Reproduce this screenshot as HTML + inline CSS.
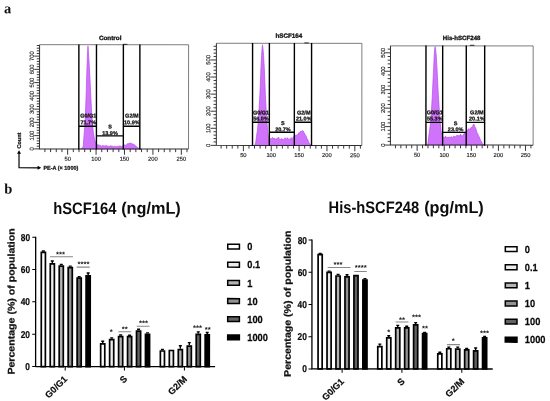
<!DOCTYPE html>
<html lang="en">
<head>
<meta charset="utf-8">
<title>Cell cycle analysis</title>
<style>
html,body{margin:0;padding:0;background:#fff;}
body{width:550px;height:401px;overflow:hidden;}
svg{display:block;}
</style>
</head>
<body>
<svg width="550" height="401" viewBox="0 0 550 401" font-family='&quot;Liberation Sans&quot;, Arial, Helvetica, sans-serif'>
<rect width="550" height="401" fill="#fff"/>
<g transform="rotate(0.03 275 200)">
<text x="3.8" y="13.3" font-family='&quot;Liberation Serif&quot;, &quot;Times New Roman&quot;, serif' font-size="14.5" font-weight="700" fill="#111">a</text>
<text x="4.2" y="193.6" font-family='&quot;Liberation Serif&quot;, &quot;Times New Roman&quot;, serif' font-size="14.5" font-weight="700" fill="#111">b</text>
<g>
<path d="M80.5 149 L80.5 149 L81.8 148.5 L83.2 146.5 L83.9 137 L85 123.5 L86 97.3 L86.8 71 L87.4 54 L87.9 46 L88.4 53 L88.9 61 L89.5 71 L90.2 85 L90.8 97.3 L91.6 113 L92.4 123.5 L93.2 132 L94 137 L95 141 L96 143.5 L97.5 145.09 L98.25 144.95 L99 145.34 L99.75 145.31 L100.5 145.51 L101.25 146.25 L102 146.24 L102.75 145.25 L103.5 146.01 L104.25 146.27 L105 145.69 L105.75 146.16 L106.5 145.69 L107.25 146.09 L108 146.11 L108.75 146.77 L109.5 146.3 L110.25 145.95 L111 146.18 L111.75 146.12 L112.5 146.34 L113.25 146.95 L114 146.21 L114.75 146.25 L115.5 146.59 L116.25 146.97 L117 146.39 L117.75 146.61 L118.5 146.27 L119.25 146.07 L120 146.3 L120.75 146.2 L121.5 146.6 L122.25 146.06 L123 146.26 L123.75 145.32 L124.5 144.98 L125.25 145.44 L126 145 L126.75 144.71 L127.5 143.69 L128.25 143.87 L129 143.26 L129.75 143.42 L130.5 142.99 L131.25 143.53 L132 143.96 L132.75 144.01 L133.5 144.31 L134.25 144.66 L135 145.6 L135.75 145.99 L136.5 146.74 L137.25 147.23 L138 147.94 L138.75 148.43 L139.5 148.66 L140.25 148.82 L141 149 L141 149 Z" fill="#d073fb" stroke="#b74bef" stroke-width="0.7" stroke-linejoin="round"/>
<path d="M39.5 44.8 H188.5 V149" fill="none" stroke="#6e6e6e" stroke-width="0.9"/>
<path d="M39.5 44.8 V149 H188.5" fill="none" stroke="#2e2e2e" stroke-width="1"/>
<path d="M44.88 149 v3.2 M50.57 149 v3.2 M56.25 149 v3.2 M61.94 149 v3.2 M67.62 149 v5.8 M73.3 149 v3.2 M78.99 149 v3.2 M84.67 149 v3.2 M90.36 149 v3.2 M96.04 149 v5.8 M101.72 149 v3.2 M107.41 149 v3.2 M113.09 149 v3.2 M118.78 149 v3.2 M124.46 149 v5.8 M130.14 149 v3.2 M135.83 149 v3.2 M141.51 149 v3.2 M147.2 149 v3.2 M152.88 149 v5.8 M158.56 149 v3.2 M164.25 149 v3.2 M169.93 149 v3.2 M175.62 149 v3.2 M181.3 149 v5.8 M186.98 149 v3.2" stroke="#2e2e2e" stroke-width="0.95" fill="none"/>
<path d="M39.5 149 h-5.3 M39.5 146.35 h-2.8 M39.5 143.7 h-2.8 M39.5 141.05 h-2.8 M39.5 138.4 h-2.8 M39.5 135.75 h-5.3 M39.5 133.1 h-2.8 M39.5 130.45 h-2.8 M39.5 127.8 h-2.8 M39.5 125.15 h-2.8 M39.5 122.5 h-5.3 M39.5 119.85 h-2.8 M39.5 117.2 h-2.8 M39.5 114.55 h-2.8 M39.5 111.9 h-2.8 M39.5 109.25 h-5.3 M39.5 106.6 h-2.8 M39.5 103.95 h-2.8 M39.5 101.3 h-2.8 M39.5 98.65 h-2.8 M39.5 96 h-5.3 M39.5 93.35 h-2.8 M39.5 90.7 h-2.8 M39.5 88.05 h-2.8 M39.5 85.4 h-2.8 M39.5 82.75 h-5.3 M39.5 80.1 h-2.8 M39.5 77.45 h-2.8 M39.5 74.8 h-2.8 M39.5 72.15 h-2.8 M39.5 69.5 h-5.3 M39.5 66.85 h-2.8 M39.5 64.2 h-2.8 M39.5 61.55 h-2.8 M39.5 58.9 h-2.8 M39.5 56.25 h-5.3 M39.5 53.6 h-2.8 M39.5 50.95 h-2.8 M39.5 48.3 h-2.8 M39.5 45.65 h-2.8" stroke="#2e2e2e" stroke-width="0.95" fill="none"/>
<text x="67.62" y="160.8" font-size="5.8" fill="#222" stroke="#222" stroke-width="0.15" text-anchor="middle">50</text>
<text x="96.04" y="160.8" font-size="5.8" fill="#222" stroke="#222" stroke-width="0.15" text-anchor="middle">100</text>
<text x="124.46" y="160.8" font-size="5.8" fill="#222" stroke="#222" stroke-width="0.15" text-anchor="middle">150</text>
<text x="152.88" y="160.8" font-size="5.8" fill="#222" stroke="#222" stroke-width="0.15" text-anchor="middle">200</text>
<text x="181.3" y="160.8" font-size="5.8" fill="#222" stroke="#222" stroke-width="0.15" text-anchor="middle">250</text>
<text transform="translate(33.6 149) rotate(-90)" font-size="5.8" fill="#222" stroke="#222" stroke-width="0.15" text-anchor="middle">0</text>
<text transform="translate(33.6 135.75) rotate(-90)" font-size="5.8" fill="#222" stroke="#222" stroke-width="0.15" text-anchor="middle">100</text>
<text transform="translate(33.6 122.5) rotate(-90)" font-size="5.8" fill="#222" stroke="#222" stroke-width="0.15" text-anchor="middle">200</text>
<text transform="translate(33.6 109.25) rotate(-90)" font-size="5.8" fill="#222" stroke="#222" stroke-width="0.15" text-anchor="middle">300</text>
<text transform="translate(33.6 96) rotate(-90)" font-size="5.8" fill="#222" stroke="#222" stroke-width="0.15" text-anchor="middle">400</text>
<text transform="translate(33.6 82.75) rotate(-90)" font-size="5.8" fill="#222" stroke="#222" stroke-width="0.15" text-anchor="middle">500</text>
<text transform="translate(33.6 69.5) rotate(-90)" font-size="5.8" fill="#222" stroke="#222" stroke-width="0.15" text-anchor="middle">600</text>
<text transform="translate(33.6 56.25) rotate(-90)" font-size="5.8" fill="#222" stroke="#222" stroke-width="0.15" text-anchor="middle">700</text>
<path d="M122.9 44.4 H127.3" stroke="#1a1a1a" stroke-width="0.9" fill="none"/>
<path d="M78.8 44.5 V149.6 M96.4 44.5 V149.6 M123.3 44.5 V149.6 M139.8 44.5 V149.6 M78.8 126.3 H96.4 M96.4 136 H123.3 M123.3 126.3 H139.8" stroke="#000" stroke-width="1.4" fill="none"/>
<text x="88.2" y="117.6" font-size="5.5" font-weight="700" fill="#111" stroke="#111" stroke-width="0.25" text-anchor="middle">G0/G1</text>
<text x="88.2" y="124.4" font-size="5.5" font-weight="700" fill="#111" stroke="#111" stroke-width="0.25" text-anchor="middle">71.7%</text>
<text x="110" y="128.6" font-size="5.5" font-weight="700" fill="#111" stroke="#111" stroke-width="0.25" text-anchor="middle">S</text>
<text x="110" y="135" font-size="5.5" font-weight="700" fill="#111" stroke="#111" stroke-width="0.25" text-anchor="middle">13.9%</text>
<text x="131.8" y="117.6" font-size="5.5" font-weight="700" fill="#111" stroke="#111" stroke-width="0.25" text-anchor="middle">G2/M</text>
<text x="131.8" y="124.4" font-size="5.5" font-weight="700" fill="#111" stroke="#111" stroke-width="0.25" text-anchor="middle">10.9%</text>
<text x="98.8" y="40" font-size="6.1" font-weight="700" fill="#111" stroke="#111" stroke-width="0.3" textLength="22.6" lengthAdjust="spacingAndGlyphs">Control</text>
</g>
<g>
<path d="M254.3 145.4 L254.3 145.4 L254.9 144.8 L255.7 142.4 L256.5 136.2 L257.4 130.4 L258.2 122.6 L259 109.4 L259.8 95.2 L260.4 81.4 L260.9 67.7 L261.5 55.4 L262 48.4 L262.4 44.8 L262.9 48.4 L263.5 55.4 L264.2 67.7 L264.8 82.4 L265.3 95.2 L266.1 109.4 L267 122.6 L267.6 131.4 L268.2 136.2 L268.9 138 L269.6 138.6 L271 138.97 L271.75 138.14 L272.5 137.44 L273.25 137.96 L274 139.14 L274.75 138.2 L275.5 139.29 L276.25 138.97 L277 138.56 L277.75 138.32 L278.5 137.04 L279.25 139.23 L280 139.26 L280.75 139.38 L281.5 138.52 L282.25 138.96 L283 140.53 L283.75 139.34 L284.5 138.42 L285.25 137.71 L286 138.5 L286.75 139.25 L287.5 137.64 L288.25 139.39 L289 138.98 L289.75 139.21 L290.5 138.75 L291.25 137.49 L292 139.15 L292.75 138.64 L293.5 136.68 L294.25 136.29 L295 136.8 L295.75 134.92 L296.5 135.13 L297.25 134.46 L298 134.96 L298.75 132.76 L299.5 132.44 L300.25 131.51 L301 131.25 L301.75 131.38 L302.5 130.44 L303.25 131.06 L304 132.77 L304.75 134.05 L305.5 135.14 L306.25 136.31 L307 139.08 L307.75 139.48 L308.5 141.87 L309.25 143.28 L310 144.01 L310.75 145.14 L311.5 145.4 L311.5 145.4 Z" fill="#d073fb" stroke="#b74bef" stroke-width="0.7" stroke-linejoin="round"/>
<path d="M216.3 43.3 H361.8 V145.4" fill="none" stroke="#6e6e6e" stroke-width="0.9"/>
<path d="M216.3 43.3 V145.4 H361.8" fill="none" stroke="#2e2e2e" stroke-width="1"/>
<path d="M221.07 145.4 v3.2 M226.64 145.4 v3.2 M232.22 145.4 v3.2 M237.79 145.4 v3.2 M243.36 145.4 v5.8 M248.93 145.4 v3.2 M254.5 145.4 v3.2 M260.08 145.4 v3.2 M265.65 145.4 v3.2 M271.22 145.4 v5.8 M276.79 145.4 v3.2 M282.36 145.4 v3.2 M287.94 145.4 v3.2 M293.51 145.4 v3.2 M299.08 145.4 v5.8 M304.65 145.4 v3.2 M310.22 145.4 v3.2 M315.8 145.4 v3.2 M321.37 145.4 v3.2 M326.94 145.4 v5.8 M332.51 145.4 v3.2 M338.08 145.4 v3.2 M343.66 145.4 v3.2 M349.23 145.4 v3.2 M354.8 145.4 v5.8 M360.37 145.4 v3.2" stroke="#2e2e2e" stroke-width="0.95" fill="none"/>
<path d="M216.3 145.4 h-5.3 M216.3 141.98 h-2.8 M216.3 138.57 h-2.8 M216.3 135.15 h-2.8 M216.3 131.74 h-2.8 M216.3 128.32 h-5.3 M216.3 124.9 h-2.8 M216.3 121.49 h-2.8 M216.3 118.07 h-2.8 M216.3 114.66 h-2.8 M216.3 111.24 h-5.3 M216.3 107.82 h-2.8 M216.3 104.41 h-2.8 M216.3 100.99 h-2.8 M216.3 97.58 h-2.8 M216.3 94.16 h-5.3 M216.3 90.74 h-2.8 M216.3 87.33 h-2.8 M216.3 83.91 h-2.8 M216.3 80.5 h-2.8 M216.3 77.08 h-5.3 M216.3 73.66 h-2.8 M216.3 70.25 h-2.8 M216.3 66.83 h-2.8 M216.3 63.42 h-2.8 M216.3 60 h-5.3 M216.3 56.58 h-2.8 M216.3 53.17 h-2.8 M216.3 49.75 h-2.8 M216.3 46.34 h-2.8" stroke="#2e2e2e" stroke-width="0.95" fill="none"/>
<text x="243.36" y="157.1" font-size="5.8" fill="#222" stroke="#222" stroke-width="0.15" text-anchor="middle">50</text>
<text x="271.22" y="157.1" font-size="5.8" fill="#222" stroke="#222" stroke-width="0.15" text-anchor="middle">100</text>
<text x="299.08" y="157.1" font-size="5.8" fill="#222" stroke="#222" stroke-width="0.15" text-anchor="middle">150</text>
<text x="326.94" y="157.1" font-size="5.8" fill="#222" stroke="#222" stroke-width="0.15" text-anchor="middle">200</text>
<text x="354.8" y="157.1" font-size="5.8" fill="#222" stroke="#222" stroke-width="0.15" text-anchor="middle">250</text>
<text transform="translate(210.3 145.4) rotate(-90)" font-size="5.8" fill="#222" stroke="#222" stroke-width="0.15" text-anchor="middle">0</text>
<text transform="translate(210.3 128.32) rotate(-90)" font-size="5.8" fill="#222" stroke="#222" stroke-width="0.15" text-anchor="middle">100</text>
<text transform="translate(210.3 111.24) rotate(-90)" font-size="5.8" fill="#222" stroke="#222" stroke-width="0.15" text-anchor="middle">200</text>
<text transform="translate(210.3 94.16) rotate(-90)" font-size="5.8" fill="#222" stroke="#222" stroke-width="0.15" text-anchor="middle">300</text>
<text transform="translate(210.3 77.08) rotate(-90)" font-size="5.8" fill="#222" stroke="#222" stroke-width="0.15" text-anchor="middle">400</text>
<text transform="translate(210.3 60) rotate(-90)" font-size="5.8" fill="#222" stroke="#222" stroke-width="0.15" text-anchor="middle">500</text>
<path d="M304.3 42.9 H308.6" stroke="#1a1a1a" stroke-width="0.9" fill="none"/>
<path d="M252.5 43 V146 M269.3 43 V146 M294.3 43 V146 M311.5 43 V146 M252.5 122.3 H269.3 M269.3 132.3 H294.3 M294.3 122.3 H311.5" stroke="#000" stroke-width="1.4" fill="none"/>
<text x="261" y="114.4" font-size="5.5" font-weight="700" fill="#111" stroke="#111" stroke-width="0.25" text-anchor="middle">G0/G1</text>
<text x="261" y="120.6" font-size="5.5" font-weight="700" fill="#111" stroke="#111" stroke-width="0.25" text-anchor="middle">56.0%</text>
<text x="282.9" y="125.1" font-size="5.5" font-weight="700" fill="#111" stroke="#111" stroke-width="0.25" text-anchor="middle">S</text>
<text x="282.9" y="131.2" font-size="5.5" font-weight="700" fill="#111" stroke="#111" stroke-width="0.25" text-anchor="middle">20.7%</text>
<text x="303.7" y="114.4" font-size="5.5" font-weight="700" fill="#111" stroke="#111" stroke-width="0.25" text-anchor="middle">G2/M</text>
<text x="303.7" y="120.6" font-size="5.5" font-weight="700" fill="#111" stroke="#111" stroke-width="0.25" text-anchor="middle">21.0%</text>
<text x="275.3" y="37.85" font-size="6.1" font-weight="700" fill="#111" stroke="#111" stroke-width="0.3" textLength="26.9" lengthAdjust="spacingAndGlyphs">hSCF164</text>
</g>
<g>
<path d="M427 145 L427 145 L427.8 144.2 L428.7 136.5 L429.6 130 L430.6 122.4 L431.5 109 L432.3 95 L432.9 82 L433.6 67.6 L434.1 56 L434.6 49 L435 46.6 L435.5 49 L436.2 56 L436.9 67.6 L437.6 82 L438.3 95 L439.2 109 L440.2 122.4 L440.9 130 L441.6 134.5 L442.5 136.6 L444 137.53 L444.75 137.36 L445.5 135.91 L446.25 137.61 L447 137.33 L447.75 137.16 L448.5 137.24 L449.25 136.79 L450 138.08 L450.75 136.73 L451.5 136.82 L452.25 137.28 L453 137.14 L453.75 135.78 L454.5 136.51 L455.25 136.73 L456 136.36 L456.75 135.15 L457.5 135.25 L458.25 135.9 L459 135.1 L459.75 136.26 L460.5 134.12 L461.25 135.5 L462 136.08 L462.75 135.43 L463.5 134.36 L464.25 133.1 L465 134.01 L465.75 132.74 L466.5 131.74 L467.25 130.74 L468 129.06 L468.75 128.72 L469.5 129.1 L470.25 128.91 L471 127.26 L471.75 127.17 L472.5 126.71 L473.25 124.36 L474 124.09 L474.75 126.63 L475.5 127.71 L476.25 129.85 L477 132.59 L477.75 133.83 L478.5 135.79 L479.25 136.87 L480 138.83 L480.75 141.29 L481.5 141.31 L482.25 143.67 L483 144.05 L483.75 144.5 L484.4 145 L484.4 145 Z" fill="#d073fb" stroke="#b74bef" stroke-width="0.7" stroke-linejoin="round"/>
<path d="M390.4 45.8 H533.1 V145" fill="none" stroke="#6e6e6e" stroke-width="0.9"/>
<path d="M390.4 45.8 V145 H533.1" fill="none" stroke="#2e2e2e" stroke-width="1"/>
<path d="M395.42 145 v3.2 M400.84 145 v3.2 M406.26 145 v3.2 M411.68 145 v3.2 M417.1 145 v5.8 M422.52 145 v3.2 M427.94 145 v3.2 M433.36 145 v3.2 M438.78 145 v3.2 M444.2 145 v5.8 M449.62 145 v3.2 M455.04 145 v3.2 M460.46 145 v3.2 M465.88 145 v3.2 M471.3 145 v5.8 M476.72 145 v3.2 M482.14 145 v3.2 M487.56 145 v3.2 M492.98 145 v3.2 M498.4 145 v5.8 M503.82 145 v3.2 M509.24 145 v3.2 M514.66 145 v3.2 M520.08 145 v3.2 M525.5 145 v5.8 M530.92 145 v3.2" stroke="#2e2e2e" stroke-width="0.95" fill="none"/>
<path d="M390.4 145 h-5.3 M390.4 141.31 h-2.8 M390.4 137.62 h-2.8 M390.4 133.93 h-2.8 M390.4 130.24 h-2.8 M390.4 126.55 h-5.3 M390.4 122.86 h-2.8 M390.4 119.17 h-2.8 M390.4 115.48 h-2.8 M390.4 111.79 h-2.8 M390.4 108.1 h-5.3 M390.4 104.41 h-2.8 M390.4 100.72 h-2.8 M390.4 97.03 h-2.8 M390.4 93.34 h-2.8 M390.4 89.65 h-5.3 M390.4 85.96 h-2.8 M390.4 82.27 h-2.8 M390.4 78.58 h-2.8 M390.4 74.89 h-2.8 M390.4 71.2 h-5.3 M390.4 67.51 h-2.8 M390.4 63.82 h-2.8 M390.4 60.13 h-2.8 M390.4 56.44 h-2.8 M390.4 52.75 h-5.3 M390.4 49.06 h-2.8" stroke="#2e2e2e" stroke-width="0.95" fill="none"/>
<text x="417.1" y="156.8" font-size="5.8" fill="#222" stroke="#222" stroke-width="0.15" text-anchor="middle">50</text>
<text x="444.2" y="156.8" font-size="5.8" fill="#222" stroke="#222" stroke-width="0.15" text-anchor="middle">100</text>
<text x="471.3" y="156.8" font-size="5.8" fill="#222" stroke="#222" stroke-width="0.15" text-anchor="middle">150</text>
<text x="498.4" y="156.8" font-size="5.8" fill="#222" stroke="#222" stroke-width="0.15" text-anchor="middle">200</text>
<text x="525.5" y="156.8" font-size="5.8" fill="#222" stroke="#222" stroke-width="0.15" text-anchor="middle">250</text>
<text transform="translate(385 145) rotate(-90)" font-size="5.8" fill="#222" stroke="#222" stroke-width="0.15" text-anchor="middle">0</text>
<text transform="translate(385 126.55) rotate(-90)" font-size="5.8" fill="#222" stroke="#222" stroke-width="0.15" text-anchor="middle">100</text>
<text transform="translate(385 108.1) rotate(-90)" font-size="5.8" fill="#222" stroke="#222" stroke-width="0.15" text-anchor="middle">200</text>
<text transform="translate(385 89.65) rotate(-90)" font-size="5.8" fill="#222" stroke="#222" stroke-width="0.15" text-anchor="middle">300</text>
<text transform="translate(385 71.2) rotate(-90)" font-size="5.8" fill="#222" stroke="#222" stroke-width="0.15" text-anchor="middle">400</text>
<text transform="translate(385 52.75) rotate(-90)" font-size="5.8" fill="#222" stroke="#222" stroke-width="0.15" text-anchor="middle">500</text>
<path d="M469.9 45.2 H474.3" stroke="#1a1a1a" stroke-width="0.9" fill="none"/>
<path d="M425.9 45.5 V145.6 M442.6 45.5 V145.6 M466.2 45.5 V145.6 M484.6 45.5 V145.6 M425.9 122.3 H442.6 M442.6 132.3 H466.2 M466.2 122.3 H484.6" stroke="#000" stroke-width="1.4" fill="none"/>
<text x="434.7" y="114.2" font-size="5.5" font-weight="700" fill="#111" stroke="#111" stroke-width="0.25" text-anchor="middle">G0/G1</text>
<text x="434.7" y="120.4" font-size="5.5" font-weight="700" fill="#111" stroke="#111" stroke-width="0.25" text-anchor="middle">55.3%</text>
<text x="455.6" y="125.1" font-size="5.5" font-weight="700" fill="#111" stroke="#111" stroke-width="0.25" text-anchor="middle">S</text>
<text x="455.6" y="131.2" font-size="5.5" font-weight="700" fill="#111" stroke="#111" stroke-width="0.25" text-anchor="middle">23.0%</text>
<text x="476.8" y="114.2" font-size="5.5" font-weight="700" fill="#111" stroke="#111" stroke-width="0.25" text-anchor="middle">G2/M</text>
<text x="476.8" y="120.4" font-size="5.5" font-weight="700" fill="#111" stroke="#111" stroke-width="0.25" text-anchor="middle">20.1%</text>
<text x="442.7" y="40" font-size="6.1" font-weight="700" fill="#111" stroke="#111" stroke-width="0.3" textLength="37.7" lengthAdjust="spacingAndGlyphs">His-hSCF248</text>
</g>
<path d="M19 152.6 V167.9 H39.6" stroke="#000" stroke-width="1.2" fill="none"/>
<path d="M19 150.4 l-2 3.6 h4 z M41.2 167.9 l-3.6 -2 v4 z" fill="#000"/>
<text transform="translate(21 148.6) rotate(-90)" font-size="5.5" font-weight="700" fill="#111" stroke="#111" stroke-width="0.25">Count</text>
<text x="43.4" y="169.9" font-size="5.5" font-weight="700" fill="#111" stroke="#111" stroke-width="0.25" textLength="34.9" lengthAdjust="spacingAndGlyphs">PE-A (× 1000)</text>
<g>
<text y="213.9" font-size="16.6" font-weight="700" fill="#0c0c0c"><tspan x="53.2" textLength="63.2" lengthAdjust="spacingAndGlyphs">hSCF164</tspan><tspan> </tspan><tspan x="121.2" textLength="59.6" lengthAdjust="spacingAndGlyphs">(ng/mL)</tspan></text>
<text transform="translate(14.5 374.7) rotate(-90)" font-size="9.6" font-weight="700" fill="#111" stroke="#111" stroke-width="0.25" textLength="146.3" lengthAdjust="spacingAndGlyphs">Percentage (%) of population</text>
<path d="M43.4 251.7 V250.5 M41.9 251.05 h3" stroke="#000" stroke-width="1.4" fill="none"/>
<rect x="41.35" y="252.55" width="4.1" height="114.15" fill="#ffffff" stroke="#000" stroke-width="1.7"/>
<path d="M52.36 263.2 V260.6 M50.86 261.15 h3" stroke="#000" stroke-width="1.4" fill="none"/>
<rect x="50.31" y="264.05" width="4.1" height="102.65" fill="#ececec" stroke="#000" stroke-width="1.7"/>
<path d="M61.32 265.4 V263.9 M59.82 264.45 h3" stroke="#000" stroke-width="1.4" fill="none"/>
<rect x="59.27" y="266.25" width="4.1" height="100.45" fill="#b4b4b4" stroke="#000" stroke-width="1.7"/>
<path d="M70.28 266.9 V265.7 M68.78 266.25 h3" stroke="#000" stroke-width="1.4" fill="none"/>
<rect x="68.23" y="267.75" width="4.1" height="98.95" fill="#929292" stroke="#000" stroke-width="1.7"/>
<path d="M79.24 277.4 V276.3 M77.74 276.85 h3" stroke="#000" stroke-width="1.4" fill="none"/>
<rect x="77.19" y="278.25" width="4.1" height="88.45" fill="#636363" stroke="#000" stroke-width="1.7"/>
<path d="M88.2 275.1 V272.6 M86.7 273.15 h3" stroke="#000" stroke-width="1.4" fill="none"/>
<rect x="86.15" y="275.95" width="4.1" height="90.75" fill="#000000" stroke="#000" stroke-width="1.7"/>
<path d="M102.8 343.2 V340.8 M101.3 341.35 h3" stroke="#000" stroke-width="1.4" fill="none"/>
<rect x="100.75" y="344.05" width="4.1" height="22.65" fill="#ffffff" stroke="#000" stroke-width="1.7"/>
<path d="M111.76 338.8 V337.4 M110.26 337.95 h3" stroke="#000" stroke-width="1.4" fill="none"/>
<rect x="109.71" y="339.65" width="4.1" height="27.05" fill="#ececec" stroke="#000" stroke-width="1.7"/>
<path d="M120.72 335.9 V334.6 M119.22 335.15 h3" stroke="#000" stroke-width="1.4" fill="none"/>
<rect x="118.67" y="336.75" width="4.1" height="29.95" fill="#b4b4b4" stroke="#000" stroke-width="1.7"/>
<path d="M129.68 335.9 V334.8 M128.18 335.35 h3" stroke="#000" stroke-width="1.4" fill="none"/>
<rect x="127.63" y="336.75" width="4.1" height="29.95" fill="#929292" stroke="#000" stroke-width="1.7"/>
<path d="M138.64 330.3 V328.8 M137.14 329.35 h3" stroke="#000" stroke-width="1.4" fill="none"/>
<rect x="136.59" y="331.15" width="4.1" height="35.55" fill="#636363" stroke="#000" stroke-width="1.7"/>
<path d="M147.6 333.5 V332.4 M146.1 332.95 h3" stroke="#000" stroke-width="1.4" fill="none"/>
<rect x="145.55" y="334.35" width="4.1" height="32.35" fill="#000000" stroke="#000" stroke-width="1.7"/>
<path d="M162.5 350.2 V348.9 M161 349.45 h3" stroke="#000" stroke-width="1.4" fill="none"/>
<rect x="160.45" y="351.05" width="4.1" height="15.65" fill="#ffffff" stroke="#000" stroke-width="1.7"/>
<rect x="169.41" y="350.55" width="4.1" height="16.15" fill="#ececec" stroke="#000" stroke-width="1.7"/>
<path d="M180.42 348.9 V345.3 M178.92 345.85 h3" stroke="#000" stroke-width="1.4" fill="none"/>
<rect x="178.37" y="349.75" width="4.1" height="16.95" fill="#b4b4b4" stroke="#000" stroke-width="1.7"/>
<path d="M189.38 345.3 V342.1 M187.88 342.65 h3" stroke="#000" stroke-width="1.4" fill="none"/>
<rect x="187.33" y="346.15" width="4.1" height="20.55" fill="#929292" stroke="#000" stroke-width="1.7"/>
<path d="M198.34 333.5 V331.4 M196.84 331.95 h3" stroke="#000" stroke-width="1.4" fill="none"/>
<rect x="196.29" y="334.35" width="4.1" height="32.35" fill="#636363" stroke="#000" stroke-width="1.7"/>
<path d="M207.3 334 V332 M205.8 332.55 h3" stroke="#000" stroke-width="1.4" fill="none"/>
<rect x="205.25" y="334.85" width="4.1" height="31.85" fill="#000000" stroke="#000" stroke-width="1.7"/>
<path d="M35.7 236.8 V367.25 M35.15 366.7 H215.2" stroke="#000" stroke-width="1.3" fill="none"/>
<path d="M35.7 366.7 h-3.4 M35.7 334.35 h-3.4 M35.7 302 h-3.4 M35.7 269.65 h-3.4 M35.7 237.3 h-3.4 M65.3 366.7 v3.8 M124.5 366.7 v3.8 M184.5 366.7 v3.8" stroke="#000" stroke-width="1" fill="none"/>
<text x="25.44" y="370.2" font-size="10" font-weight="700" fill="#0a0a0a" stroke="#0a0a0a" stroke-width="0.2" textLength="4.66" lengthAdjust="spacingAndGlyphs">0</text>
<text x="20.78" y="337.85" font-size="10" font-weight="700" fill="#0a0a0a" stroke="#0a0a0a" stroke-width="0.2" textLength="9.32" lengthAdjust="spacingAndGlyphs">20</text>
<text x="20.78" y="305.5" font-size="10" font-weight="700" fill="#0a0a0a" stroke="#0a0a0a" stroke-width="0.2" textLength="9.32" lengthAdjust="spacingAndGlyphs">40</text>
<text x="20.78" y="273.15" font-size="10" font-weight="700" fill="#0a0a0a" stroke="#0a0a0a" stroke-width="0.2" textLength="9.32" lengthAdjust="spacingAndGlyphs">60</text>
<text x="20.78" y="240.8" font-size="10" font-weight="700" fill="#0a0a0a" stroke="#0a0a0a" stroke-width="0.2" textLength="9.32" lengthAdjust="spacingAndGlyphs">80</text>
<text transform="translate(67.9 379.8) rotate(-45)" font-size="9.15" font-weight="700" fill="#0c0c0c" stroke="#0c0c0c" stroke-width="0.2" text-anchor="end">G0/G1</text>
<text transform="translate(128 379.6) rotate(-45)" font-size="9.15" font-weight="700" fill="#0c0c0c" stroke="#0c0c0c" stroke-width="0.2" text-anchor="end">S</text>
<text transform="translate(187.6 379.8) rotate(-45)" font-size="9.15" font-weight="700" fill="#0c0c0c" stroke="#0c0c0c" stroke-width="0.2" text-anchor="end">G2/M</text>
<path d="M50 256.9 H73" stroke="#888" stroke-width="1.1" fill="none"/>
<path d="M76.7 267.2 H89.8" stroke="#888" stroke-width="1.1" fill="none"/>
<path d="M118.5 331.9 H131.2" stroke="#888" stroke-width="1.1" fill="none"/>
<path d="M136.8 326.3 H149.6" stroke="#888" stroke-width="1.1" fill="none"/>
<text x="60.5" y="257.1" font-size="7.7" font-weight="700" fill="#1c1c1c" text-anchor="middle">***</text>
<text x="83.5" y="266.9" font-size="7.7" font-weight="700" fill="#1c1c1c" text-anchor="middle">****</text>
<text x="111.4" y="334.7" font-size="7.7" font-weight="700" fill="#1c1c1c" text-anchor="middle">*</text>
<text x="124.7" y="331.8" font-size="7.7" font-weight="700" fill="#1c1c1c" text-anchor="middle">**</text>
<text x="143.6" y="325.8" font-size="7.7" font-weight="700" fill="#1c1c1c" text-anchor="middle">***</text>
<text x="197.5" y="330.5" font-size="7.7" font-weight="700" fill="#1c1c1c" text-anchor="middle">***</text>
<text x="207.7" y="332.2" font-size="7.7" font-weight="700" fill="#1c1c1c" text-anchor="middle">**</text>
<rect x="227.75" y="244.2" width="11.7" height="4.8" fill="#ffffff" stroke="#000" stroke-width="1.5"/>
<text x="247.3" y="250.25" font-size="10.3" font-weight="700" fill="#0a0a0a" stroke="#0a0a0a" stroke-width="0.25" textLength="5.17" lengthAdjust="spacingAndGlyphs">0</text>
<rect x="227.75" y="262.35" width="11.7" height="4.8" fill="#ececec" stroke="#000" stroke-width="1.5"/>
<text x="247.3" y="268.4" font-size="10.3" font-weight="700" fill="#0a0a0a" stroke="#0a0a0a" stroke-width="0.25" textLength="12.93" lengthAdjust="spacingAndGlyphs">0.1</text>
<rect x="227.75" y="280.5" width="11.7" height="4.8" fill="#b4b4b4" stroke="#000" stroke-width="1.5"/>
<text x="247.3" y="286.55" font-size="10.3" font-weight="700" fill="#0a0a0a" stroke="#0a0a0a" stroke-width="0.25" textLength="5.17" lengthAdjust="spacingAndGlyphs">1</text>
<rect x="227.75" y="298.65" width="11.7" height="4.8" fill="#929292" stroke="#000" stroke-width="1.5"/>
<text x="247.3" y="304.7" font-size="10.3" font-weight="700" fill="#0a0a0a" stroke="#0a0a0a" stroke-width="0.25" textLength="10.34" lengthAdjust="spacingAndGlyphs">10</text>
<rect x="227.75" y="316.8" width="11.7" height="4.8" fill="#636363" stroke="#000" stroke-width="1.5"/>
<text x="247.3" y="322.85" font-size="10.3" font-weight="700" fill="#0a0a0a" stroke="#0a0a0a" stroke-width="0.25" textLength="15.51" lengthAdjust="spacingAndGlyphs">100</text>
<rect x="227.75" y="334.95" width="11.7" height="4.8" fill="#000000" stroke="#000" stroke-width="1.5"/>
<text x="247.3" y="341" font-size="10.3" font-weight="700" fill="#0a0a0a" stroke="#0a0a0a" stroke-width="0.25" textLength="20.68" lengthAdjust="spacingAndGlyphs">1000</text>
</g>
<g>
<text y="212.8" font-size="16.6" font-weight="700" fill="#0c0c0c"><tspan x="328.6" textLength="90.6" lengthAdjust="spacingAndGlyphs">His-hSCF248</tspan><tspan> </tspan><tspan x="424.2" textLength="59.6" lengthAdjust="spacingAndGlyphs">(pg/mL)</tspan></text>
<text transform="translate(290.8 376.9) rotate(-90)" font-size="9.6" font-weight="700" fill="#111" stroke="#111" stroke-width="0.25" textLength="146.3" lengthAdjust="spacingAndGlyphs">Percentage (%) of population</text>
<path d="M320.2 253.8 V253 M318.7 253.55 h3" stroke="#000" stroke-width="1.4" fill="none"/>
<rect x="318.15" y="254.65" width="4.1" height="114.25" fill="#ffffff" stroke="#000" stroke-width="1.7"/>
<path d="M329.16 271.4 V270.5 M327.66 271.05 h3" stroke="#000" stroke-width="1.4" fill="none"/>
<rect x="327.11" y="272.25" width="4.1" height="96.65" fill="#ececec" stroke="#000" stroke-width="1.7"/>
<path d="M338.12 275.1 V273.8 M336.62 274.35 h3" stroke="#000" stroke-width="1.4" fill="none"/>
<rect x="336.07" y="275.95" width="4.1" height="92.95" fill="#b4b4b4" stroke="#000" stroke-width="1.7"/>
<path d="M347.08 275.9 V274.2 M345.58 274.75 h3" stroke="#000" stroke-width="1.4" fill="none"/>
<rect x="345.03" y="276.75" width="4.1" height="92.15" fill="#929292" stroke="#000" stroke-width="1.7"/>
<rect x="353.99" y="275.55" width="4.1" height="93.35" fill="#636363" stroke="#000" stroke-width="1.7"/>
<path d="M365 279.2 V278.2 M363.5 278.75 h3" stroke="#000" stroke-width="1.4" fill="none"/>
<rect x="362.95" y="280.05" width="4.1" height="88.85" fill="#000000" stroke="#000" stroke-width="1.7"/>
<path d="M379.9 345.7 V343.5 M378.4 344.05 h3" stroke="#000" stroke-width="1.4" fill="none"/>
<rect x="377.85" y="346.55" width="4.1" height="22.35" fill="#ffffff" stroke="#000" stroke-width="1.7"/>
<path d="M388.86 337 V335.1 M387.36 335.65 h3" stroke="#000" stroke-width="1.4" fill="none"/>
<rect x="386.81" y="337.85" width="4.1" height="31.05" fill="#ececec" stroke="#000" stroke-width="1.7"/>
<path d="M397.82 326.9 V324.8 M396.32 325.35 h3" stroke="#000" stroke-width="1.4" fill="none"/>
<rect x="395.77" y="327.75" width="4.1" height="41.15" fill="#b4b4b4" stroke="#000" stroke-width="1.7"/>
<path d="M406.78 326.9 V325.6 M405.28 326.15 h3" stroke="#000" stroke-width="1.4" fill="none"/>
<rect x="404.73" y="327.75" width="4.1" height="41.15" fill="#929292" stroke="#000" stroke-width="1.7"/>
<path d="M415.74 323.9 V322 M414.24 322.55 h3" stroke="#000" stroke-width="1.4" fill="none"/>
<rect x="413.69" y="324.75" width="4.1" height="44.15" fill="#636363" stroke="#000" stroke-width="1.7"/>
<path d="M424.7 332.6 V331.8 M423.2 332.35 h3" stroke="#000" stroke-width="1.4" fill="none"/>
<rect x="422.65" y="333.45" width="4.1" height="35.45" fill="#000000" stroke="#000" stroke-width="1.7"/>
<path d="M439.9 353 V351.6 M438.4 352.15 h3" stroke="#000" stroke-width="1.4" fill="none"/>
<rect x="437.85" y="353.85" width="4.1" height="15.05" fill="#ffffff" stroke="#000" stroke-width="1.7"/>
<path d="M448.86 347.8 V346.5 M447.36 347.05 h3" stroke="#000" stroke-width="1.4" fill="none"/>
<rect x="446.81" y="348.65" width="4.1" height="20.25" fill="#ececec" stroke="#000" stroke-width="1.7"/>
<path d="M457.82 348.1 V346.5 M456.32 347.05 h3" stroke="#000" stroke-width="1.4" fill="none"/>
<rect x="455.77" y="348.95" width="4.1" height="19.95" fill="#b4b4b4" stroke="#000" stroke-width="1.7"/>
<path d="M466.78 349 V347.8 M465.28 348.35 h3" stroke="#000" stroke-width="1.4" fill="none"/>
<rect x="464.73" y="349.85" width="4.1" height="19.05" fill="#929292" stroke="#000" stroke-width="1.7"/>
<path d="M475.74 349.9 V347.4 M474.24 347.95 h3" stroke="#000" stroke-width="1.4" fill="none"/>
<rect x="473.69" y="350.75" width="4.1" height="18.15" fill="#636363" stroke="#000" stroke-width="1.7"/>
<path d="M484.7 336.9 V335.9 M483.2 336.45 h3" stroke="#000" stroke-width="1.4" fill="none"/>
<rect x="482.65" y="337.75" width="4.1" height="31.15" fill="#000000" stroke="#000" stroke-width="1.7"/>
<path d="M312 239.6 V369.45 M311.45 368.9 H492.8" stroke="#000" stroke-width="1.3" fill="none"/>
<path d="M312 368.9 h-3.4 M312 336.7 h-3.4 M312 304.5 h-3.4 M312 272.3 h-3.4 M312 240.1 h-3.4 M342.2 368.9 v3.8 M402 368.9 v3.8 M461.9 368.9 v3.8" stroke="#000" stroke-width="1" fill="none"/>
<text x="302.34" y="372.4" font-size="10" font-weight="700" fill="#0a0a0a" stroke="#0a0a0a" stroke-width="0.2" textLength="4.66" lengthAdjust="spacingAndGlyphs">0</text>
<text x="297.68" y="340.2" font-size="10" font-weight="700" fill="#0a0a0a" stroke="#0a0a0a" stroke-width="0.2" textLength="9.32" lengthAdjust="spacingAndGlyphs">20</text>
<text x="297.68" y="308" font-size="10" font-weight="700" fill="#0a0a0a" stroke="#0a0a0a" stroke-width="0.2" textLength="9.32" lengthAdjust="spacingAndGlyphs">40</text>
<text x="297.68" y="275.8" font-size="10" font-weight="700" fill="#0a0a0a" stroke="#0a0a0a" stroke-width="0.2" textLength="9.32" lengthAdjust="spacingAndGlyphs">60</text>
<text x="297.68" y="243.6" font-size="10" font-weight="700" fill="#0a0a0a" stroke="#0a0a0a" stroke-width="0.2" textLength="9.32" lengthAdjust="spacingAndGlyphs">80</text>
<text transform="translate(344.8 382) rotate(-45)" font-size="9.15" font-weight="700" fill="#0c0c0c" stroke="#0c0c0c" stroke-width="0.2" text-anchor="end">G0/G1</text>
<text transform="translate(405.5 381.8) rotate(-45)" font-size="9.15" font-weight="700" fill="#0c0c0c" stroke="#0c0c0c" stroke-width="0.2" text-anchor="end">S</text>
<text transform="translate(465 382) rotate(-45)" font-size="9.15" font-weight="700" fill="#0c0c0c" stroke="#0c0c0c" stroke-width="0.2" text-anchor="end">G2/M</text>
<path d="M327.7 267.4 H350.6" stroke="#888" stroke-width="1.1" fill="none"/>
<path d="M354.3 271.4 H366.8" stroke="#888" stroke-width="1.1" fill="none"/>
<path d="M395.7 322 H408.5" stroke="#888" stroke-width="1.1" fill="none"/>
<path d="M447.1 344.5 H460" stroke="#888" stroke-width="1.1" fill="none"/>
<text x="338.1" y="267.3" font-size="7.7" font-weight="700" fill="#1c1c1c" text-anchor="middle">***</text>
<text x="360.8" y="270.3" font-size="7.7" font-weight="700" fill="#1c1c1c" text-anchor="middle">****</text>
<text x="388.9" y="334.8" font-size="7.7" font-weight="700" fill="#1c1c1c" text-anchor="middle">*</text>
<text x="402" y="322.5" font-size="7.7" font-weight="700" fill="#1c1c1c" text-anchor="middle">**</text>
<text x="416.5" y="319.6" font-size="7.7" font-weight="700" fill="#1c1c1c" text-anchor="middle">***</text>
<text x="425.1" y="330.9" font-size="7.7" font-weight="700" fill="#1c1c1c" text-anchor="middle">**</text>
<text x="453.4" y="343.4" font-size="7.7" font-weight="700" fill="#1c1c1c" text-anchor="middle">*</text>
<text x="484.6" y="335.7" font-size="7.7" font-weight="700" fill="#1c1c1c" text-anchor="middle">***</text>
<rect x="505.35" y="246.6" width="11.7" height="4.8" fill="#ffffff" stroke="#000" stroke-width="1.5"/>
<text x="524.9" y="252.65" font-size="10.3" font-weight="700" fill="#0a0a0a" stroke="#0a0a0a" stroke-width="0.25" textLength="5.17" lengthAdjust="spacingAndGlyphs">0</text>
<rect x="505.35" y="264.72" width="11.7" height="4.8" fill="#ececec" stroke="#000" stroke-width="1.5"/>
<text x="524.9" y="270.77" font-size="10.3" font-weight="700" fill="#0a0a0a" stroke="#0a0a0a" stroke-width="0.25" textLength="12.93" lengthAdjust="spacingAndGlyphs">0.1</text>
<rect x="505.35" y="282.84" width="11.7" height="4.8" fill="#b4b4b4" stroke="#000" stroke-width="1.5"/>
<text x="524.9" y="288.89" font-size="10.3" font-weight="700" fill="#0a0a0a" stroke="#0a0a0a" stroke-width="0.25" textLength="5.17" lengthAdjust="spacingAndGlyphs">1</text>
<rect x="505.35" y="300.96" width="11.7" height="4.8" fill="#929292" stroke="#000" stroke-width="1.5"/>
<text x="524.9" y="307.01" font-size="10.3" font-weight="700" fill="#0a0a0a" stroke="#0a0a0a" stroke-width="0.25" textLength="10.34" lengthAdjust="spacingAndGlyphs">10</text>
<rect x="505.35" y="319.08" width="11.7" height="4.8" fill="#636363" stroke="#000" stroke-width="1.5"/>
<text x="524.9" y="325.13" font-size="10.3" font-weight="700" fill="#0a0a0a" stroke="#0a0a0a" stroke-width="0.25" textLength="15.51" lengthAdjust="spacingAndGlyphs">100</text>
<rect x="505.35" y="337.2" width="11.7" height="4.8" fill="#000000" stroke="#000" stroke-width="1.5"/>
<text x="524.9" y="343.25" font-size="10.3" font-weight="700" fill="#0a0a0a" stroke="#0a0a0a" stroke-width="0.25" textLength="20.68" lengthAdjust="spacingAndGlyphs">1000</text>
</g>
</g>
</svg>
</body>
</html>
